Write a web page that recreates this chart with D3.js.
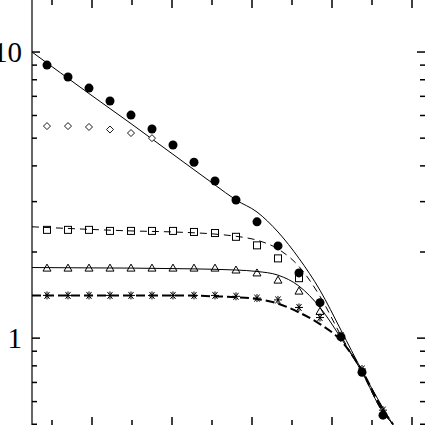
<!DOCTYPE html>
<html><head><meta charset="utf-8">
<script src="https://cdn.jsdelivr.net/npm/d3@7"></script>
<style>body{margin:0;background:#fff}svg{display:block}</style>
</head><body><svg id="c" width="425" height="425"></svg>
<script>
// point positions (index along x)
const xIdx = [0,1,2,3,4,5,6,7,8,9,10,11,12,13,14,15,16];
const circles = [9.0,8.18,7.48,6.74,6.02,5.38,4.73,4.12,3.54,3.04,2.55,2.10,1.69,1.33,1.01,0.76,0.538];
const diamonds = [5.51,5.51,5.47,5.36,5.21,5.0];
const squares = [2.39,2.39,2.39,2.37,2.37,2.37,2.37,2.35,2.33,2.26,2.11,1.90,1.62,1.30,1.01,0.76,0.54];
const triangles = [1.757,1.757,1.757,1.757,1.757,1.757,1.757,1.757,1.757,1.73,1.69,1.595,1.46,1.24,1.0,0.76,0.545];
const stars = [1.41,1.41,1.41,1.41,1.41,1.41,1.41,1.41,1.41,1.40,1.38,1.36,1.28,1.18,1.02,0.78,0.56];
// fit curves: x positions and values
const lineX = [-0.714,2,4,6,8,9,10,11,12,13,14,15,16,16.48];
const fitCircles = [10.0,7.16,5.62,4.39,3.43,3.04,2.76,2.35,1.90,1.47,1.066,0.77,0.57,0.497];
const fitSquares = [2.45,2.4,2.37,2.35,2.31,2.27,2.2,2.05,1.78,1.40,1.02,0.76,0.55,0.5];
const fitTriangles = [1.765,1.76,1.757,1.75,1.74,1.73,1.71,1.66,1.52,1.28,1.0,0.76,0.55,0.5];
const fitStars = [1.41,1.41,1.41,1.41,1.40,1.39,1.37,1.32,1.23,1.12,0.98,0.77,0.56,0.5];
const yTickLabels = ["10","1"];

const svg = d3.select("#c");
const x = d3.scaleLinear().domain([-0.714, 18]).range([32, 425]);
const y = d3.scaleLog().domain([0.497, 15.2]).range([425, 0]);
const g = svg.append("g");

g.append("rect").attr("x",32).attr("y",-3).attr("width",398).attr("height",432)
 .attr("fill","none").attr("stroke","#000").attr("stroke-width",1.2);

const xt = d3.range(10).map(k => x.invert(52 + 40*k));
xt.forEach((v,k)=>{
  const L = k%2 ? 8 : 5;
  g.append("line").attr("x1",x(v)).attr("x2",x(v)).attr("y1",0).attr("y2",L).attr("stroke","#000").attr("stroke-width",1.5);
  g.append("line").attr("x1",x(v)).attr("x2",x(v)).attr("y1",425).attr("y2",425-L).attr("stroke","#000").attr("stroke-width",1.5);
});
const yt = [];
[0.1,1,10].forEach(d => d3.range(1,10).forEach(m => yt.push(d*m)));
yt.filter(v => v>=0.49 && v<=15.2).forEach(v=>{
  const major = Math.abs(Math.log10(v)%1) < 1e-9;
  const L = major ? 8 : 5;
  g.append("line").attr("x1",32).attr("x2",32+L).attr("y1",y(v)).attr("y2",y(v)).attr("stroke","#000").attr("stroke-width",1.5);
  g.append("line").attr("x1",425).attr("x2",425-L).attr("y1",y(v)).attr("y2",y(v)).attr("stroke","#000").attr("stroke-width",1.5);
});
[10,1].forEach((v,i)=>{
  g.append("text").attr("x",22).attr("y",y(v)+10).attr("text-anchor","end")
   .attr("font-family","Liberation Serif, serif").attr("font-size",29).text(yTickLabels[i]);
});

const line = d3.line().x(d=>x(d[0])).y(d=>y(d[1])).curve(d3.curveMonotoneX);
function fit(vals, dash, w){
  g.append("path").attr("d", line(lineX.map((xx,i)=>[xx,vals[i]])))
   .attr("fill","none").attr("stroke","#000").attr("stroke-width",w).attr("stroke-dasharray",dash);
}
fit(fitCircles, null, 1);
fit(fitSquares, "7,5", 1);
fit(fitTriangles, null, 1);
fit(fitStars, "9,4", 2);

circles.forEach((v,i)=> g.append("circle").attr("cx",x(xIdx[i])).attr("cy",y(v)).attr("r",4.5).attr("fill","#000"));
diamonds.forEach((v,i)=> g.append("path").attr("transform",`translate(${x(xIdx[i])},${y(v)})`)
  .attr("d","M0,-3.5L3.5,0L0,3.5L-3.5,0Z").attr("fill","#fff").attr("stroke","#000").attr("stroke-width",0.9));
squares.forEach((v,i)=> { if(i<13) g.append("rect").attr("x",x(xIdx[i])-3.5).attr("y",y(v)-3.5).attr("width",7).attr("height",7)
  .attr("fill","none").attr("stroke","#000").attr("stroke-width",1); });
triangles.forEach((v,i)=> { if(i<14) g.append("path").attr("transform",`translate(${x(xIdx[i])},${y(v)})`)
  .attr("d","M0,-4L4,3L-4,3Z").attr("fill","none").attr("stroke","#000").attr("stroke-width",1); });
stars.forEach((v,i)=> g.append("path").attr("transform",`translate(${x(xIdx[i])},${y(v)})`)
  .attr("d","M-4,0H4M-2.5,-3.5L2.5,3.5M2.5,-3.5L-2.5,3.5M0,-4V4").attr("stroke","#000").attr("stroke-width",1));
</script></body></html>
